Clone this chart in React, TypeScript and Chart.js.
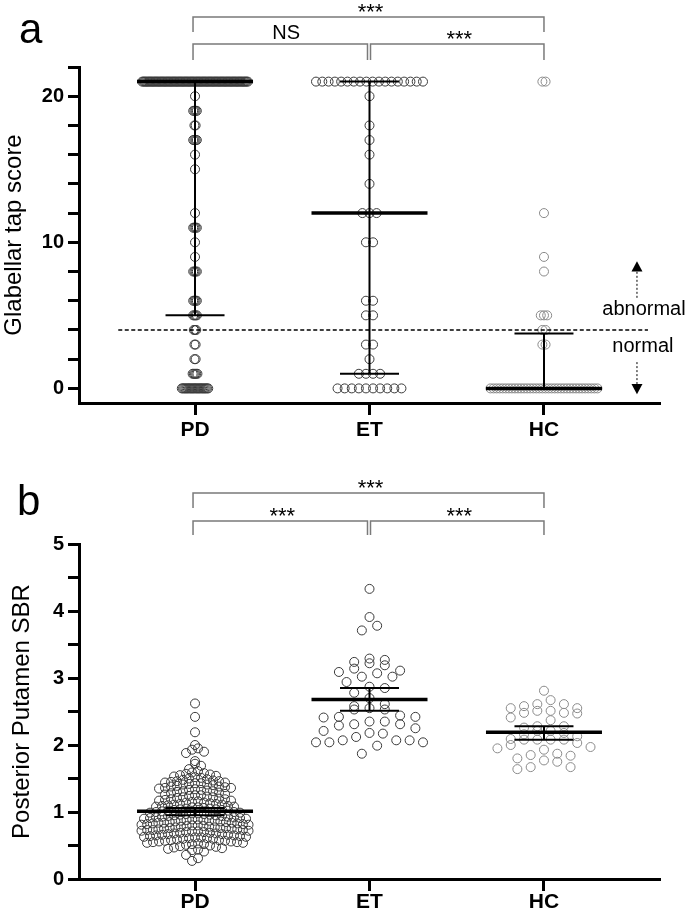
import React, { useEffect, useRef } from "react";
import { Chart, registerables } from "chart.js";

Chart.register(...registerables);

const FONT = '"Liberation Sans", Arial, Helvetica, sans-serif';

const categories = ["PD", "ET", "HC"];
const pointColors = ["#3a3a3a", "#3a3a3a", "#8a8a8a"];

// ---------- Panel a: Glabellar tap score (distinct score, number of subjects) ----------
const pdScoresA = [21, 20, 19, 18, 17, 16, 15, 12, 11, 10, 9, 8, 6, 5, 4, 3, 2, 1, 0];
const pdCountsA = [89, 1, 4, 2, 4, 1, 1, 1, 4, 1, 1, 4, 4, 4, 3, 2, 2, 5, 23];
const etScoresA = [21, 20, 18, 17, 16, 14, 12, 10, 6, 5, 3, 2, 1, 0];
const etCountsA = [18, 1, 1, 1, 1, 1, 3, 2, 2, 2, 2, 1, 4, 10];
const hcScoresA = [21, 12, 9, 8, 5, 4, 3, 0];
const hcCountsA = [2, 1, 1, 1, 3, 2, 2, 36];
const medianA = [21, 12, 0];
const q1A = [5, 1, 0];
const q3A = [21, 21, 3.75];
const thresholdA = 4;
const yTicksA = [0, 2, 4, 6, 8, 10, 12, 14, 16, 18, 20, 22];
const yLabelsA = [0, 10, 20];
const bracketPairs = [[0, 2], [0, 1], [1, 2]];
const bracketLabelsA = ["***", "NS", "***"];

// ---------- Panel b: Posterior putamen SBR ----------
const pdSBR = [
  0.27, 0.31, 0.36,
  0.41, 0.43, 0.44, 0.45, 0.46, 0.47, 0.48, 0.49,
  0.50, 0.51, 0.52, 0.52, 0.53, 0.54, 0.54, 0.55, 0.55, 0.56, 0.56, 0.57, 0.57, 0.58, 0.58, 0.59,
  0.60, 0.60, 0.61, 0.61, 0.62, 0.62, 0.63, 0.63, 0.64, 0.64, 0.65, 0.65, 0.66, 0.66, 0.67, 0.67, 0.68, 0.68, 0.69, 0.69,
  0.70, 0.70, 0.71, 0.71, 0.72, 0.72, 0.73, 0.73, 0.73, 0.74, 0.74, 0.75, 0.75, 0.76, 0.76, 0.76, 0.77, 0.77, 0.78, 0.78, 0.79, 0.79,
  0.80, 0.80, 0.81, 0.81, 0.82, 0.82, 0.83, 0.83, 0.84, 0.84, 0.84, 0.85, 0.85, 0.86, 0.86, 0.87, 0.87, 0.87, 0.88, 0.88, 0.89, 0.89,
  0.90, 0.90, 0.91, 0.91, 0.92, 0.92, 0.93, 0.93, 0.94, 0.94, 0.95, 0.95, 0.96, 0.96, 0.97, 0.97, 0.98, 0.98, 0.99, 0.99,
  1.00, 1.00, 1.01, 1.02, 1.02, 1.03, 1.03, 1.04, 1.04, 1.05, 1.05, 1.06, 1.07, 1.07, 1.08, 1.08, 1.09, 1.09,
  1.10, 1.11, 1.11, 1.12, 1.12, 1.13, 1.14, 1.14, 1.15, 1.16, 1.17, 1.17, 1.18, 1.19, 1.19,
  1.20, 1.21, 1.22, 1.22, 1.23, 1.24, 1.25, 1.25, 1.26, 1.27, 1.28, 1.29,
  1.30, 1.31, 1.31, 1.32, 1.33, 1.33, 1.34, 1.35, 1.36, 1.36, 1.37, 1.38, 1.38, 1.39,
  1.40, 1.41, 1.41, 1.42, 1.43, 1.43, 1.44, 1.44, 1.45, 1.46, 1.46, 1.47, 1.48, 1.49,
  1.50, 1.51, 1.52, 1.53, 1.54, 1.55, 1.56, 1.57, 1.58, 1.59,
  1.61, 1.64, 1.69, 1.72, 1.76, 1.88, 1.90, 1.93, 1.95, 2.00, 2.19, 2.42, 2.62,
];
const etSBR = [
  4.33, 3.91, 3.78, 3.71, 3.29, 3.24, 3.14, 3.22, 3.19, 3.27, 3.11, 3.07, 3.09, 2.94, 3.02, 3.02,
  2.87, 2.85, 2.78, 2.70, 2.58, 2.61, 2.53, 2.53, 2.55, 2.41, 2.44, 2.42, 2.42, 2.31, 2.29, 2.35,
  2.31, 2.35, 2.25, 2.21, 2.17, 2.18, 2.07, 2.04, 2.07, 2.12, 1.99, 2.04, 2.04, 2.07, 1.87,
];
const hcSBR = [
  2.81, 2.67, 2.61, 2.55, 2.61, 2.47, 2.48, 2.48, 2.51, 2.37, 2.51, 2.55, 2.41, 2.58, 2.28, 2.28,
  2.26, 2.21, 2.21, 2.16, 2.18, 2.13, 2.08, 2.09, 2.08, 2.08, 2.08, 2.03, 1.97, 1.95, 1.93, 2.00,
  1.87, 1.85, 1.84, 1.77, 1.80, 1.75, 1.67, 1.67, 1.64,
];
const meanB = [1.01, 2.68, 2.19];
const ciLowB = [0.95, 2.51, 2.08];
const ciHighB = [1.06, 2.85, 2.28];
const yTicksB = [0, 0.5, 1, 1.5, 2, 2.5, 3, 3.5, 4, 4.5, 5];
const yLabelsB = [0, 1, 2, 3, 4, 5];
const bracketLabelsB = ["***", "***", "***"];

// ---------- geometry ----------
const W = 685;
const AREA_LEFT = 79;
const AREA_RIGHT = 660;
const X_MIN = -0.665;
const X_MAX = 2.665;
const PX_X = (AREA_RIGHT - AREA_LEFT) / (X_MAX - X_MIN);

function expand(scores: number[], counts: number[]): number[] {
  const out: number[] = [];
  scores.forEach((s, i) => {
    for (let k = 0; k < counts[i]; k++) out.push(s);
  });
  return out;
}

// row-based dot layout (Prism-like): points within a value band are centred side by side
function swarmOffsets(values: number[], rowUnits: number, spacingPx: number, maxSpanPx: number): number[] {
  const idx = values.map((_, i) => i).sort((a, b) => values[a] - values[b]);
  const offsets = new Array(values.length).fill(0);
  let i = 0;
  while (i < idx.length) {
    const start = values[idx[i]];
    let j = i;
    while (j < idx.length && values[idx[j]] - start <= rowUnits + 1e-9) j++;
    const row = idx.slice(i, j);
    const k = row.length;
    const sp = k > 1 ? Math.min(spacingPx, maxSpanPx / (k - 1)) : 0;
    const pos: number[] = [];
    for (let p = 0; p < k; p++) pos.push((p - (k - 1) / 2) * sp);
    let l = 0;
    let r = k - 1;
    row.forEach((id, n) => {
      offsets[id] = n % 2 === 0 ? pos[l++] : pos[r--];
    });
    i = j;
  }
  return offsets;
}

function groupPoints(values: number[], cat: number, rowUnits: number, spacingPx: number) {
  const off = swarmOffsets(values, rowUnits, spacingPx, 107);
  return values.map((v, i) => ({ x: cat + off[i] / PX_X, y: v }));
}

function seg(ctx: CanvasRenderingContext2D, x1: number, y1: number, x2: number, y2: number) {
  ctx.beginPath();
  ctx.moveTo(x1, y1);
  ctx.lineTo(x2, y2);
  ctx.stroke();
}

function arrow(ctx: CanvasRenderingContext2D, x: number, yStart: number, yBase: number, yTip: number) {
  ctx.save();
  ctx.strokeStyle = "#000";
  ctx.lineWidth = 1;
  ctx.setLineDash([2, 2]);
  seg(ctx, x, yStart, x, yBase);
  ctx.setLineDash([]);
  ctx.fillStyle = "#000";
  ctx.beginPath();
  ctx.moveTo(x - 5.5, yBase);
  ctx.lineTo(x + 5.5, yBase);
  ctx.lineTo(x, yTip);
  ctx.closePath();
  ctx.fill();
  ctx.restore();
}

type Spec = {
  key: string;
  height: number;
  top: number;
  bottomPad: number;
  xAxisH: number;
  xLabelPad: number;
  yMin: number;
  yMax: number;
  yTicks: number[];
  yLabels: number[];
  yTitle: string;
  titlePad: number;
  groups: { x: number; y: number }[][];
  center: number[];
  lower: number[];
  upper: number[];
  bracketLabels: string[];
  bracketY: number[][];
  letter: string;
  letterPos: number[];
  extra?: (chart: any) => void;
};

function makeChart(canvas: HTMLCanvasElement, spec: Spec) {
  const overlay = {
    id: "overlay-" + spec.key,
    afterDatasetsDraw(chart: any) {
      const { ctx } = chart;
      const xs = chart.scales.x;
      const ys = chart.scales.y;
      if (spec.extra) spec.extra(chart);
      ctx.save();
      ctx.strokeStyle = "#000";
      for (let g = 0; g < 3; g++) {
        const cx = xs.getPixelForValue(g);
        const yl = ys.getPixelForValue(spec.lower[g]);
        const yu = ys.getPixelForValue(spec.upper[g]);
        const yc = ys.getPixelForValue(spec.center[g]);
        ctx.lineWidth = 2;
        seg(ctx, cx, yl, cx, yu);
        seg(ctx, cx - 29.5, yl, cx + 29.5, yl);
        seg(ctx, cx - 29.5, yu, cx + 29.5, yu);
        ctx.lineWidth = 3.5;
        seg(ctx, cx - 58, yc, cx + 58, yc);
      }
      ctx.restore();
    },
    afterDraw(chart: any) {
      const { ctx } = chart;
      const xs = chart.scales.x;
      ctx.save();
      ctx.strokeStyle = "#7a7a7a";
      ctx.lineWidth = 1.5;
      ctx.fillStyle = "#000";
      ctx.textAlign = "center";
      ctx.textBaseline = "alphabetic";
      bracketPairs.forEach((pair, i) => {
        const [a, b] = pair;
        const x1 = xs.getPixelForValue(a) + (a === 1 ? 1 : -2);
        const x2 = xs.getPixelForValue(b) + (b === 1 ? -2 : 0);
        const [yLine, yEnd] = spec.bracketY[i];
        ctx.beginPath();
        ctx.moveTo(x1, yEnd);
        ctx.lineTo(x1, yLine);
        ctx.lineTo(x2, yLine);
        ctx.lineTo(x2, yEnd);
        ctx.stroke();
        const lab = spec.bracketLabels[i];
        if (lab === "NS") {
          ctx.font = `20px ${FONT}`;
          ctx.fillText(lab, (x1 + x2) / 2 + 6, yLine - 5);
        } else {
          ctx.font = `22px ${FONT}`;
          ctx.fillText(lab, (x1 + x2) / 2 + 2, yLine + 2);
        }
      });
      ctx.textAlign = "left";
      ctx.font = `42px ${FONT}`;
      ctx.fillText(spec.letter, spec.letterPos[0], spec.letterPos[1]);
      ctx.restore();
    },
  };

  const tickFont = { family: FONT, size: 20, weight: "bold" as const };
  return new Chart(canvas, {
    type: "scatter",
    data: {
      datasets: spec.groups.map((pts, g) => ({
        label: categories[g],
        data: pts,
        pointRadius: 4.5,
        pointHoverRadius: 4.5,
        pointBorderWidth: 1,
        pointBorderColor: pointColors[g],
        pointBackgroundColor: "rgba(0,0,0,0)",
        showLine: false,
        clip: false as any,
      })),
    },
    options: {
      animation: false,
      responsive: false,
      maintainAspectRatio: false,
      events: [],
      layout: { padding: { left: 0, right: W - AREA_RIGHT, top: spec.top, bottom: spec.bottomPad } },
      plugins: { legend: { display: false }, tooltip: { enabled: false } },
      scales: {
        x: {
          type: "linear",
          min: X_MIN,
          max: X_MAX,
          afterBuildTicks: (s: any) => {
            s.ticks = [0, 1, 2].map((v) => ({ value: v }));
          },
          afterFit: (s: any) => {
            s.height = spec.xAxisH;
          },
          ticks: {
            callback: (v: any) => categories[Number(v)] ?? "",
            font: { family: FONT, size: 21, weight: "bold" },
            color: "#000",
            padding: spec.xLabelPad,
            autoSkip: false,
            maxRotation: 0,
          },
          grid: { drawOnChartArea: false, drawTicks: true, tickLength: 12, tickWidth: 3, tickColor: "#000" },
          border: { display: true, width: 3, color: "#000" },
        },
        y: {
          type: "linear",
          min: spec.yMin,
          max: spec.yMax,
          afterBuildTicks: (s: any) => {
            s.ticks = spec.yTicks.map((v) => ({ value: v }));
          },
          afterFit: (s: any) => {
            s.width = AREA_LEFT;
          },
          ticks: {
            callback: (v: any) => (spec.yLabels.includes(Number(v)) ? String(v) : ""),
            font: tickFont,
            color: "#000",
            padding: 4,
            autoSkip: false,
          },
          grid: { drawOnChartArea: false, drawTicks: true, tickLength: 11, tickWidth: 3, tickColor: "#000" },
          border: { display: true, width: 3, color: "#000" },
          title: {
            display: true,
            text: spec.yTitle,
            font: { family: FONT, size: 24 },
            color: "#000",
            padding: { top: spec.titlePad, bottom: 0 },
          },
        },
      },
    },
    plugins: [overlay],
  } as any);
}

const PX_Y_B = (424 - 89) / 5;

const specA: Spec = {
  key: "a",
  height: 455,
  top: 67,
  bottomPad: 7,
  xAxisH: 45,
  xLabelPad: 3,
  yMin: -1,
  yMax: 22,
  yTicks: yTicksA,
  yLabels: yLabelsA,
  yTitle: "Glabellar tap score",
  titlePad: 0,
  groups: [
    groupPoints(expand(pdScoresA, pdCountsA), 0, 0.3, 1.2),
    groupPoints(expand(etScoresA, etCountsA), 1, 0.3, 7.1),
    groupPoints(expand(hcScoresA, hcCountsA), 2, 0.3, 3.2),
  ],
  center: medianA,
  lower: q1A,
  upper: q3A,
  bracketLabels: bracketLabelsA,
  bracketY: [[17, 32], [44, 60], [44, 60]],
  letter: "a",
  letterPos: [19, 43],
  extra: (chart: any) => {
    const { ctx } = chart;
    const xs = chart.scales.x;
    const ys = chart.scales.y;
    ctx.save();
    ctx.strokeStyle = "#000";
    ctx.lineWidth = 1.5;
    ctx.setLineDash([4, 2.5]);
    const yt = ys.getPixelForValue(thresholdA);
    seg(ctx, xs.getPixelForValue(-0.44), yt, xs.getPixelForValue(2.596), yt);
    ctx.setLineDash([]);
    const ax = xs.getPixelForValue(2.533);
    arrow(ctx, ax, ys.getPixelForValue(6.2), ys.getPixelForValue(8.0), ys.getPixelForValue(8.7));
    arrow(ctx, ax, ys.getPixelForValue(1.8), ys.getPixelForValue(0.3), ys.getPixelForValue(-0.4));
    ctx.fillStyle = "#000";
    ctx.font = `20px ${FONT}`;
    ctx.textAlign = "center";
    ctx.textBaseline = "middle";
    ctx.fillText("abnormal", xs.getPixelForValue(2.573), ys.getPixelForValue(5.4));
    ctx.fillText("normal", xs.getPixelForValue(2.567), ys.getPixelForValue(2.87));
    ctx.restore();
  },
};

const specB: Spec = {
  key: "b",
  height: 460,
  top: 89,
  bottomPad: 6,
  xAxisH: 30,
  xLabelPad: -1,
  yMin: 0,
  yMax: 5,
  yTicks: yTicksB,
  yLabels: yLabelsB,
  yTitle: "Posterior Putamen SBR",
  titlePad: 8,
  groups: [
    groupPoints(pdSBR, 0, 6 / PX_Y_B, 6),
    groupPoints(etSBR, 1, 10 / PX_Y_B, 15.3),
    groupPoints(hcSBR, 2, 9 / PX_Y_B, 13.3),
  ],
  center: meanB,
  lower: ciLowB,
  upper: ciHighB,
  bracketLabels: bracketLabelsB,
  bracketY: [[38, 53], [66, 80], [66, 80]],
  letter: "b",
  letterPos: [17, 60],
};

function Panel({ spec, top }: { spec: Spec; top: number }) {
  const ref = useRef<HTMLCanvasElement | null>(null);
  useEffect(() => {
    if (!ref.current) return;
    const chart = makeChart(ref.current, spec);
    return () => chart.destroy();
  }, [spec]);
  return (
    <canvas
      ref={ref}
      width={W}
      height={spec.height}
      style={{ position: "absolute", left: 0, top, width: W, height: spec.height, display: "block" }}
    />
  );
}

export default function App() {
  return (
    <div style={{ position: "absolute", left: 0, top: 0, width: W, height: 915, background: "#fff", overflow: "hidden" }}>
      <Panel spec={specA} top={0} />
      <Panel spec={specB} top={455} />
    </div>
  );
}
